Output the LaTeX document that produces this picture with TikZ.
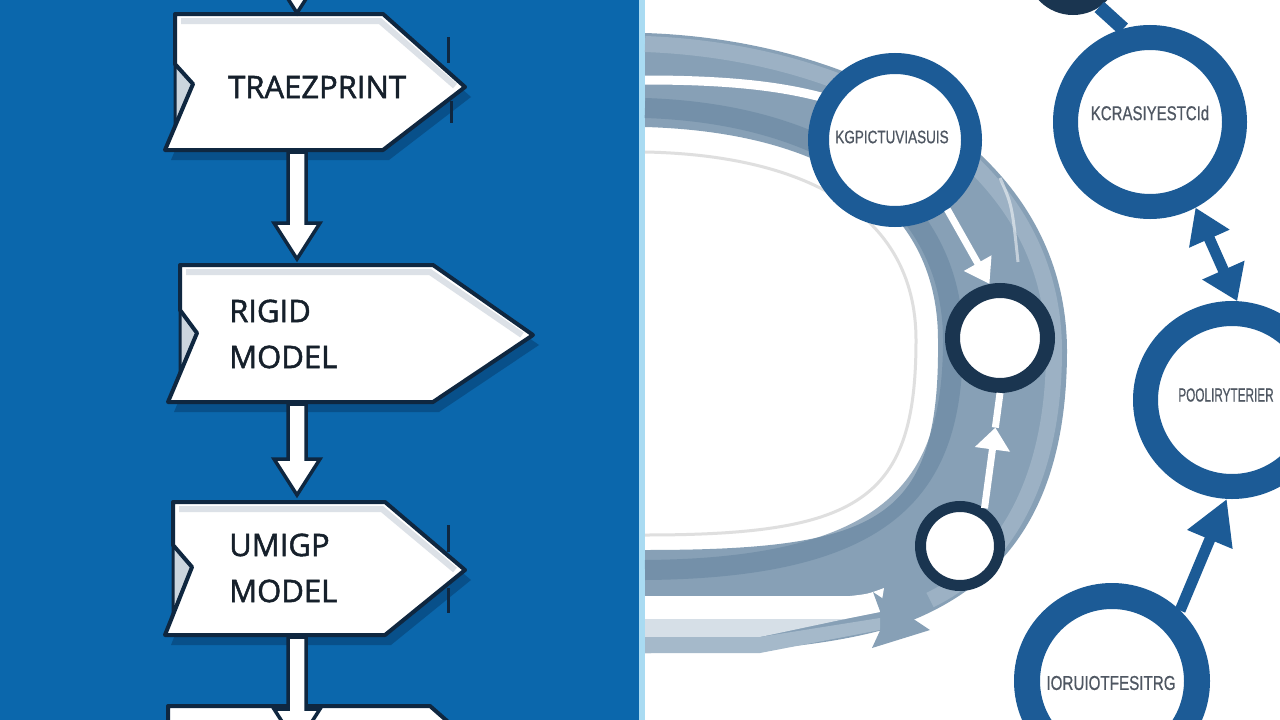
\documentclass[tikz,border=0pt]{standalone}
\usepackage{graphicx}
\usepackage{fontspec}
\setmainfont{Open Sans}
\newfontfamily\boxfont{Open Sans}[FakeBold=1.6]
\newfontfamily\circfont{Liberation Sans}[FakeBold=0.8]
\usetikzlibrary{arrows.meta,calc}

\definecolor{panelblue}{HTML}{0B67AC}
\definecolor{navy}{HTML}{0F2740}
\definecolor{shadowblue}{HTML}{08508A}
\definecolor{notchgray}{HTML}{CBD5DE}
\definecolor{bevelgray}{HTML}{DCE1E7}
\definecolor{ringblue}{HTML}{1C5B96}
\definecolor{ringdark}{HTML}{1A3550}
\definecolor{swA}{HTML}{87A0B6}
\definecolor{swDark}{HTML}{6C8AA4}
\definecolor{swLight}{HTML}{A5B9CA}
\definecolor{edgecyan}{HTML}{A9DBF2}
\definecolor{txtgray}{HTML}{4F5762}
\definecolor{boxtext}{HTML}{16202B}

\tikzset{
  signshadow/.style={fill=shadowblue},
  signbody/.style={fill=white, draw=navy, line width=4pt, line join=round},
  notchtri/.style={fill=notchgray, draw=navy, line width=3pt, line join=round},
  bevel/.style={draw=bevelgray, line width=6pt},
  flowarr/.style={fill=white, draw=navy, line width=3.5pt, line join=miter},
  tickline/.style={draw=navy, line width=3pt},
  boxtxt/.style={inner sep=0pt, text=boxtext, font=\boxfont\fontsize{31}{46}\selectfont, align=left},
  ringnode/.style={circle, draw=ringblue, fill=white, inner sep=0pt},
  darkring/.style={circle, draw=ringdark, fill=white, inner sep=0pt},
  circtext/.style={inner sep=0pt, text=txtgray},
  bluecon/.style={draw=ringblue, line width=11pt},
  whitecon/.style={draw=white, line width=7pt},
}

\newcommand{\flowarrow}[2]{%
  \draw[flowarr] ($(#1)+(-9,0)$) -- ($(#2)+(-9,-36)$) -- ($(#2)+(-23,-36)$) -- (#2)
    -- ($(#2)+(23,-36)$) -- ($(#2)+(9,-36)$) -- ($(#1)+(9,0)$) -- cycle;}

\begin{document}
\begin{tikzpicture}[x=1pt, y=-1pt]
\useasboundingbox (0,0) rectangle (1280,720);
\clip (0,0) rectangle (1280,720);
\fill[white] (0,0) rectangle (1280,720);

% ---------- left panel ----------
\fill[panelblue] (0,0) rectangle (639,720);
\fill[edgecyan] (639,0) rectangle (645,720);

% box 1
\fill[signshadow, shift={(6,10)}] (175,14) -- (383,14) -- (465,87) -- (383,150) -- (165,150) -- (193,84) -- (175,64) -- cycle;
\draw[notchtri] (175,64) -- (193,84) -- (175,126) -- cycle;
\draw[signbody] (175,14) -- (383,14) -- (465,87) -- (383,150) -- (165,150) -- (193,84) -- (175,64) -- cycle;
\draw[bevel] (181,21) -- (380,21) -- (455,86);
\node[boxtxt, anchor=west] (t1) at (228,87) {TRAEZPRINT};
\draw[tickline] (448,37) -- (448,63);
\draw[tickline] (451,101) -- (451,123);

% box 2
\fill[signshadow, shift={(6,10)}] (180,265) -- (433,265) -- (533,335) -- (433,402) -- (168,402) -- (197,333) -- (180,310) -- cycle;
\draw[notchtri] (180,310) -- (197,333) -- (180,373) -- cycle;
\draw[signbody] (180,265) -- (433,265) -- (533,335) -- (433,402) -- (168,402) -- (197,333) -- (180,310) -- cycle;
\draw[bevel] (186,272) -- (430,272) -- (522,335);
\node[boxtxt, anchor=west] (t2) at (229,334) {RIGID\\MODEL};

% box 3
\fill[signshadow, shift={(6,10)}] (173,502) -- (385,502) -- (465,570) -- (385,635) -- (165,635) -- (192,567) -- (173,545) -- cycle;
\draw[notchtri] (173,545) -- (192,567) -- (173,614) -- cycle;
\draw[signbody] (173,502) -- (385,502) -- (465,570) -- (385,635) -- (165,635) -- (192,567) -- (173,545) -- cycle;
\draw[bevel] (179,509) -- (382,509) -- (455,570);
\node[boxtxt, anchor=west] (t3) at (229,568) {UMIGP\\MODEL};
\draw[tickline] (448,525) -- (448,552);
\draw[tickline] (448,588) -- (448,613);

% box 4 (cut by bottom edge)
\fill[signshadow, shift={(6,10)}] (168,706) -- (430,706) -- (510,776) -- (430,846) -- (160,846) -- (190,776) -- (168,750) -- cycle;
\draw[notchtri] (168,735) -- (190,760) -- (168,800) -- cycle;
\draw[signbody] (168,706) -- (430,706) -- (510,776) -- (430,846) -- (160,846) -- (190,760) -- (168,735) -- cycle;

% flow arrows
\coordinate (a0s) at (297,-60);  \coordinate (a0e) at (297,13);
\coordinate (a1s) at (297,152);  \coordinate (a1e) at (297,259);
\coordinate (a2s) at (297,404);  \coordinate (a2e) at (297,495);
\coordinate (a3s) at (297,637);  \coordinate (a3e) at (297,745);
\flowarrow{a0s}{a0e}
\flowarrow{a1s}{a1e}
\flowarrow{a2s}{a2e}
\flowarrow{a3s}{a3e}

% ---------- right panel: swoosh ----------
\fill[swA] (645,33) .. controls (860,40) and (1066,150) .. (1067,350)
  .. controls (1067,500) and (1010,585) .. (900,625)
  .. controls (820,650) and (720,653) .. (645,653)
  -- (645,550) .. controls (880,550) and (940,520) .. (938,340)
  .. controls (938,200) and (820,132) .. (645,127) -- cycle;
\draw[swLight, line width=16pt, opacity=0.7] (645,44) .. controls (860,52) and (1053,160) .. (1054,350)
  .. controls (1054,470) and (1012,560) .. (930,600);
\draw[swDark, line width=20pt, opacity=0.7] (645,108) .. controls (830,114) and (953,200) .. (953,340)
  .. controls (953,480) and (900,568) .. (645,570);
\draw[white, line width=3pt, opacity=0.5] (1000,178) .. controls (1012,205) .. (1018,262);
% top white gap
\draw[white, line width=9pt] (645,80) .. controls (740,80) and (800,88) .. (850,106);
% bottom white gap, light strip and arrowhead
\fill[white] (645,596) -- (850,596) .. controls (868,594) .. (884,588) -- (880,612) -- (845,619) -- (645,619) -- cycle;
\fill[swLight!45!white] (645,619) -- (845,619) -- (760,637) -- (645,637) -- cycle;
\fill[swLight] (645,637) -- (760,637) -- (880,618) -- (880,630) -- (760,653) -- (645,653) -- cycle;
\fill[swA] (873,592) -- (930,630) -- (872,648) -- (884,622) -- cycle;
% thin inner line
\draw[gray!25, line width=3pt] (645,152) .. controls (800,155) and (916,210) .. (916,340)
  .. controls (916,500) and (860,535) .. (645,535);

% ---------- circles ----------
\node[ringnode, line width=21pt, minimum size=153pt] (C1) at (895,140) {};
\node[ringnode, line width=25pt, minimum size=169pt] (C2) at (1150,122) {};
\node[darkring, line width=15pt, minimum size=95pt] (C3) at (1000,338) {};
\node[darkring, line width=11pt, minimum size=79pt] (C4) at (960,546) {};
\node[ringnode, line width=25pt, minimum size=173pt] (C5) at (1232,400) {};
\node[ringnode, line width=26pt, minimum size=170pt] (C6) at (1112,681) {};
\node[darkring, line width=16pt, minimum size=78pt] (C7) at (1073,-32) {};

\node[circtext, font=\circfont\fontsize{18}{20}\selectfont] (C1t) at (892,137) {\scalebox{0.75}[1]{KGPICTUVIASUIS}};
\node[circtext, font=\circfont\fontsize{20}{22}\selectfont] (C2t) at (1150,113) {\scalebox{0.75}[1]{KCRASIYESTCId}};
\node[circtext, font=\circfont\fontsize{19}{21}\selectfont] (C5t) at (1226,395) {\scalebox{0.62}[1]{POOLIRYTERIER}};
\node[circtext, font=\circfont\fontsize{20}{22}\selectfont] (C6t) at (1111,683) {\scalebox{0.76}[1]{IORUIOTFESITRG}};

% ---------- connectors ----------
\draw[bluecon, line width=14pt] (C7.-56) -- (C2.106);
\draw[bluecon, {Triangle[length=34pt,width=42pt]}-{Triangle[length=34pt,width=44pt]}] (C2.-62) -- (C5.87);
\draw[bluecon, -{Triangle[length=44pt,width=46pt]}] (C6.46) -- (C5.-93);

\draw[whitecon, -{Triangle[length=24pt,width=30pt]}] (C1.-53) -- (C3.101);
\coordinate (m43) at ($(C4.57)!0.7!(C3.-90)$);
\draw[whitecon] (m43) -- (C3.-90);
\draw[whitecon, -{Triangle[length=22pt,width=34pt]}] (C4.57) -- (m43);
\end{tikzpicture}
\end{document}
